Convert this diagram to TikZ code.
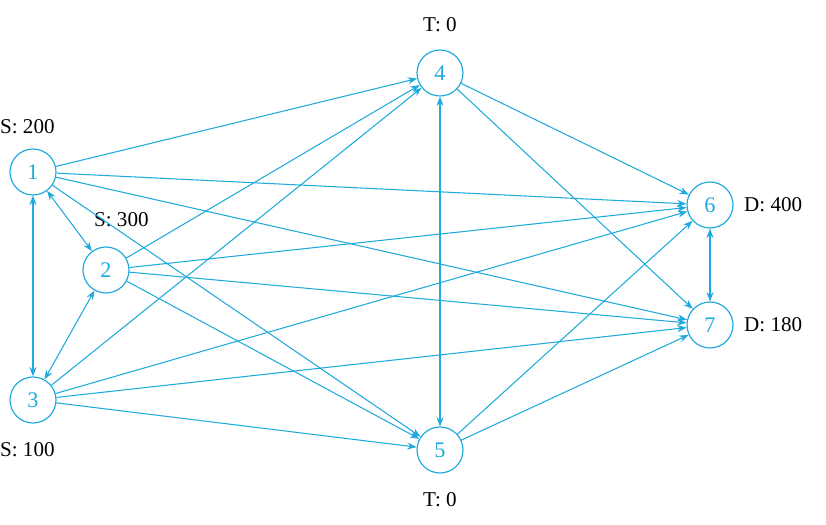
\documentclass[tikz,border=0pt]{standalone}
\usepackage{fontspec}
\setmainfont{Liberation Serif}
\usetikzlibrary{arrows.meta}
\definecolor{cy}{RGB}{30,170,220}
\begin{document}
\begin{tikzpicture}[x=0.03cm,y=-0.03cm,
  nd/.style={circle,draw=cy,line width=1pt,minimum size=1.38cm,inner sep=0pt,text=cy,font=\fontsize{19}{21}\selectfont},
  lb/.style={font=\fontsize{18}{21}\selectfont},
  ar/.style={draw=cy,line width=0.9pt,-{Stealth[length=8pt,width=6pt]}},
  ba/.style={draw=cy,line width=0.9pt,{Stealth[length=8pt,width=6pt]}-{Stealth[length=8pt,width=6pt]}}]
\useasboundingbox (0,0) rectangle (826,525);
\node[nd] (n1) at (33,172) {1};
\node[nd] (n2) at (106,270) {2};
\node[nd] (n3) at (33,400) {3};
\node[nd] (n4) at (440,73) {4};
\node[nd] (n5) at (440,450) {5};
\node[nd] (n6) at (710,205) {6};
\node[nd] (n7) at (710,325) {7};
\node[lb,anchor=west] (l1) at (-4,127) {S: 200};
\node[lb,anchor=west] (l2) at (90,220) {S: 300};
\node[lb,anchor=west] (l3) at (-4,450) {S: 100};
\node[lb] (l4) at (440,25) {T: 0};
\node[lb] (l5) at (440,500) {T: 0};
\node[lb,anchor=west] (l6) at (740,205) {D: 400};
\node[lb,anchor=west] (l7) at (740,325) {D: 180};
\draw[ba] (n1)--(n2); \draw[ba] (n1)--(n3); \draw[ba] (n3)--(n2);
\draw[ba] (n4)--(n5); \draw[ba] (n6)--(n7);
\foreach \a/\b in {n1/n4,n1/n6,n1/n7,n1/n5,n2/n4,n2/n6,n2/n7,n2/n5,n3/n4,n3/n6,n3/n7,n3/n5,n4/n6,n4/n7,n5/n6,n5/n7}
  \draw[ar] (\a)--(\b);
\end{tikzpicture}
\end{document}
